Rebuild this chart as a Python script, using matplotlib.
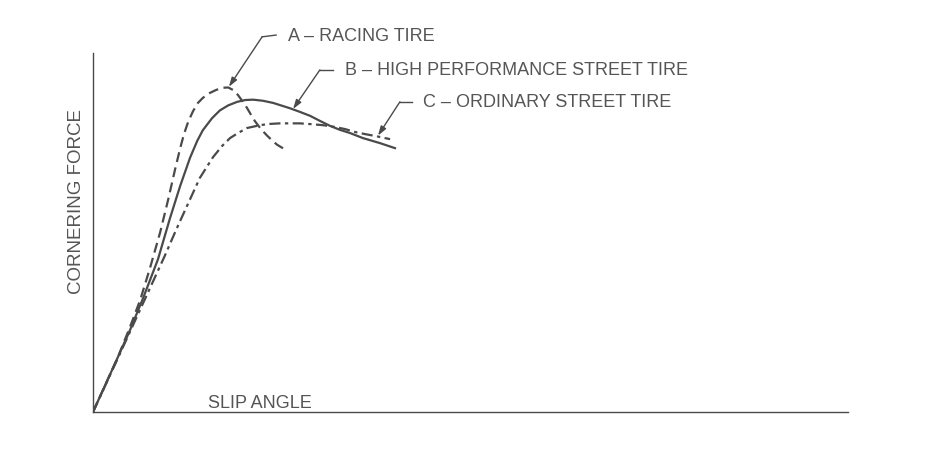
import matplotlib
matplotlib.use("Agg")
import matplotlib.pyplot as plt

# slip angle (arbitrary units) vs cornering force (arbitrary units)
a_slip = [0, 0.66, 0.98, 1.25, 1.51, 1.78, 1.99, 2.17, 2.31, 2.41, 2.52, 2.65, 2.78, 2.91,
          3.10, 3.26, 3.42, 3.58, 3.71, 3.84, 3.97, 4.08, 4.19, 4.29, 4.45, 4.61, 4.74, 4.87, 5.01, 5.14]
a_force = [0, 1.53, 2.37, 3.12, 4.01, 5.01, 5.91, 6.74, 7.35, 7.74, 8.08, 8.38, 8.61, 8.75,
           8.89, 8.97, 9.03, 9.04, 8.97, 8.83, 8.64, 8.47, 8.27, 8.10, 7.88, 7.70, 7.57, 7.45, 7.36, 7.28]

b_slip = [0, 0.66, 0.98, 1.33, 1.72, 2.04, 2.31, 2.57, 2.76, 2.91, 3.15, 3.36, 3.58, 3.82, 4.03,
          4.24, 4.50, 4.77, 5.01, 5.22, 5.48, 5.75, 6.01, 6.28, 6.54, 6.81, 7.15, 7.60, 8.00]
b_force = [0, 1.53, 2.28, 3.18, 4.25, 5.40, 6.30, 7.08, 7.55, 7.85, 8.18, 8.40, 8.54, 8.64, 8.69,
           8.70, 8.67, 8.61, 8.53, 8.46, 8.36, 8.25, 8.11, 7.97, 7.86, 7.77, 7.63, 7.49, 7.35]

c_slip = [0, 0.72, 1.06, 1.40, 1.67, 1.91, 2.20, 2.49, 2.83, 3.18, 3.42, 3.63, 3.84, 4.08, 4.34,
          4.61, 4.95, 5.48, 5.75, 6.09, 6.41, 6.68, 6.94, 7.21, 7.47, 7.87]
c_force = [0, 1.64, 2.42, 3.20, 3.82, 4.37, 5.07, 5.74, 6.52, 7.10, 7.41, 7.63, 7.77, 7.91, 7.97,
           8.02, 8.04, 8.04, 8.02, 7.99, 7.94, 7.88, 7.80, 7.74, 7.69, 7.60]

labels = ["A \u2013 RACING TIRE", "B \u2013 HIGH PERFORMANCE STREET TIRE", "C \u2013 ORDINARY STREET TIRE"]

ink = "#4a4a4a"
txt = "#555555"
plt.rcParams['font.family'] = ['Liberation Sans', 'DejaVu Sans']

fig = plt.figure(figsize=(9.26, 4.74), dpi=100)
ax = fig.add_axes([93/926, 62/474, 755/926, 359/474])
ax.set_xlim(0, 20)
ax.set_ylim(0, 10)

ax.plot(a_slip, a_force, color=ink, lw=1.6, linestyle=(0, (4.5, 2.5)))
ax.plot(b_slip, b_force, color=ink, lw=1.6)
ax.plot(c_slip, c_force, color=ink, lw=1.6, linestyle=(0, (5, 2, 1.5, 2)))

# leader lines: tip on curve, elbow, end of short horizontal, text start
leaders = [
    ((3.60, 9.06), (4.48, 10.45), (4.85, 10.50), (5.17, 10.33)),
    ((5.30, 8.44), (6.01, 9.53), (6.36, 9.53), (6.68, 9.39)),
    ((7.55, 7.70), (8.13, 8.64), (8.45, 8.64), (8.74, 8.50)),
]
for lab, (tip, elbow, hend, tpos) in zip(labels, leaders):
    ax.plot([elbow[0], hend[0]], [elbow[1], hend[1]], color=ink, lw=1.0, clip_on=False)
    ax.annotate("", xy=tip, xytext=elbow,
                arrowprops=dict(arrowstyle="-|>,head_length=0.55,head_width=0.18",
                                color=ink, lw=1.0, shrinkA=0, shrinkB=0))
    ax.text(tpos[0], tpos[1], lab, fontsize=13, color=txt, ha="left", va="baseline")

ax.text(3.05, 0.11, "SLIP ANGLE", fontsize=13, color=txt, ha="left", va="baseline")
ax.text(-0.45, 5.86, "CORNERING FORCE", fontsize=13.5, color=txt, rotation=90,
        ha="center", va="center")

for s in ["top", "right"]:
    ax.spines[s].set_visible(False)
for s in ["left", "bottom"]:
    ax.spines[s].set_color(ink)
    ax.spines[s].set_linewidth(1.0)
ax.set_xticks([])
ax.set_yticks([])

fig.savefig("out.png", dpi=100)
